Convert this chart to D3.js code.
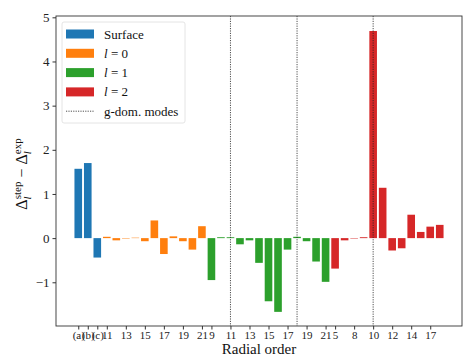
<!DOCTYPE html>
<html><head><meta charset="utf-8">
<script src="https://cdn.jsdelivr.net/npm/d3@7/dist/d3.min.js"></script>
<style>body{margin:0;background:#fff}svg{display:block}text{font-family:"Liberation Serif","DejaVu Serif",serif}</style>
</head><body><svg id="c" width="474" height="357"></svg>
<script>
const groups = ["Surface","l0","l1","l2"];
const groupNames = ["Surface","l = 0","l = 1","l = 2"];
const colors = ["#1f77b4","#ff7f0e","#2ca02c","#d62728"];
const surfaceValues = [1.57, 1.70, -0.44];
const l0Values = [0.03, -0.05, -0.01, 0.01, -0.07, 0.40, -0.36, 0.04, -0.07, -0.26, 0.27];
const l1Values = [-0.95, 0.02, 0.02, -0.14, -0.05, -0.56, -1.43, -1.67, -0.26, 0.03, -0.07, -0.53, -0.99];
const l2Values = [-0.69, -0.05, -0.01, 0.02, 4.69, 1.14, -0.28, -0.23, 0.53, 0.14, 0.26, 0.30];
const tickIndex = [0,1,2,3,5,7,9,11,13,14,16,18,20,22,24,26,27,29,31,33,35,37];
const tickLabels = ["(a)","(b)","(c)","11","13","15","17","19","21","9","11","13","15","17","19","21","5","8","10","12","14","17"];
const gModeIndex = [16, 23, 31];
const yTicks = [-1,0,1,2,3,4,5];

const bars = [];
[surfaceValues,l0Values,l1Values,l2Values].forEach((arr,g)=>arr.forEach(v=>bars.push({g, v, i: bars.length})));

const svg = d3.select("#c");
const L=56, R=462, T=16, B=326;
const x = d3.scaleLinear().domain([-2.34, bars.length - 1 + 2.34]).range([L, R]);
const y = d3.scaleLinear().domain([-1.99, 5.03]).range([B, T]);
const bw = (x(0.8) - x(0));

svg.append("g").selectAll("rect").data(bars).join("rect")
  .attr("x", d => x(d.i) - bw/2)
  .attr("width", bw)
  .attr("y", d => y(Math.max(0, d.v)))
  .attr("height", d => Math.abs(y(d.v) - y(0)))
  .attr("fill", d => colors[d.g]);

svg.append("g").selectAll("line").data(gModeIndex).join("line")
  .attr("x1", d => x(d)).attr("x2", d => x(d))
  .attr("y1", T).attr("y2", B)
  .attr("stroke", "#222").attr("stroke-width", 0.8).attr("stroke-dasharray", "1.2,1.2");

// axes
const xAxis = d3.axisBottom(x).tickValues(tickIndex).tickFormat((d,k)=>tickLabels[k]).tickSize(3.5).tickPadding(2);
const gx = svg.append("g").attr("transform", `translate(0,${B})`).call(xAxis);
gx.select(".domain").remove();
gx.selectAll("text").attr("font-size", 11).attr("font-family", "Liberation Serif").attr("fill", "#222");
gx.selectAll("line").attr("stroke", "#333");

const yAxis = d3.axisLeft(y).tickValues(yTicks).tickFormat(d => d < 0 ? "\u2212" + Math.abs(d) : d).tickSize(3.5).tickPadding(3);
const gy = svg.append("g").attr("transform", `translate(${L},0)`).call(yAxis);
gy.select(".domain").remove();
gy.selectAll("text").attr("font-size", 13).attr("font-family", "Liberation Serif").attr("fill", "#222");
gy.selectAll("line").attr("stroke", "#333");

svg.append("rect").attr("x", L).attr("y", T).attr("width", R-L).attr("height", B-T)
  .attr("fill", "none").attr("stroke", "#333").attr("stroke-width", 0.9);

// axis labels
svg.append("text").attr("x", (L+R)/2).attr("y", 354).attr("text-anchor", "middle")
  .attr("font-size", 15).attr("fill", "#111").text("Radial order");

const yl = svg.append("text").attr("transform", "translate(27,174) rotate(-90)")
  .attr("text-anchor", "middle").attr("font-size", 16).attr("fill", "#111");
yl.append("tspan").text("\u0394");
yl.append("tspan").attr("font-size", 11).attr("font-style", "italic").attr("dy", 4).text("l");
yl.append("tspan").attr("font-size", 11).attr("dy", -10).attr("dx", -3).text("step");
yl.append("tspan").attr("dy", 6).text(" \u2212 \u0394");
yl.append("tspan").attr("font-size", 11).attr("font-style", "italic").attr("dy", 4).text("l");
yl.append("tspan").attr("font-size", 11).attr("dy", -10).attr("dx", -3).text("exp");

// legend
const lg = svg.append("g");
lg.append("rect").attr("x", 62).attr("y", 22).attr("width", 123).attr("height", 101)
  .attr("rx", 2).attr("fill", "#fff").attr("fill-opacity", 0.8).attr("stroke", "#ddd").attr("stroke-width", 0.8);
const items = groupNames.map((n,k)=>({n, k})).concat([{n:"g-dom. modes", k:-1}]);
const rowY = k => 34 + k*19.3;
items.forEach((it, idx) => {
  const cy = rowY(idx);
  if (it.k >= 0) {
    lg.append("rect").attr("x", 66).attr("y", cy - 4.5).attr("width", 28).attr("height", 9).attr("fill", colors[it.k]);
  } else {
    lg.append("line").attr("x1", 66).attr("x2", 94).attr("y1", cy).attr("y2", cy)
      .attr("stroke", "#222").attr("stroke-width", 0.8).attr("stroke-dasharray", "1.2,1.2");
  }
  const t = lg.append("text").attr("x", 104).attr("y", cy + 4.5).attr("font-size", 13).attr("fill", "#111");
  if (it.k >= 1) {
    const parts = it.n.split(" ");
    t.append("tspan").attr("font-style", "italic").text("l");
    t.append("tspan").text(" = " + parts[2]);
  } else {
    t.text(it.n);
  }
});
</script></body></html>
